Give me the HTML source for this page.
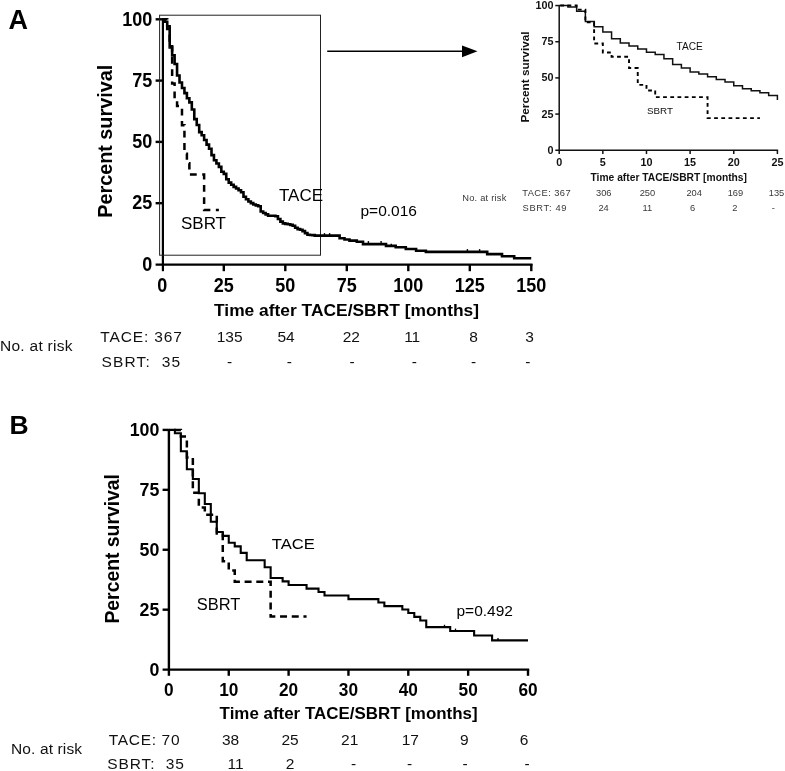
<!DOCTYPE html>
<html><head><meta charset="utf-8"><style>
html,body{margin:0;padding:0;background:#fff;}
svg{display:block;}
text{font-family:"Liberation Sans",Arial,sans-serif;}
.b{font-weight:bold;}
</style></head><body>
<svg width="785" height="771" viewBox="0 0 785 771">
<rect width="785" height="771" fill="#fff"/>
<g stroke="#000" stroke-width="2.4" fill="none" stroke-linecap="butt">
<line x1="162.9" y1="18.1" x2="162.9" y2="271.2" stroke-width="2.2"/>
<line x1="155.6" y1="264.6" x2="532.5" y2="264.6"/>
<line x1="155.6" y1="19.3" x2="162.3" y2="19.3"/>
<line x1="155.6" y1="80.6" x2="162.3" y2="80.6"/>
<line x1="155.6" y1="141.9" x2="162.3" y2="141.9"/>
<line x1="155.6" y1="203.2" x2="162.3" y2="203.2"/>
<line x1="223.8" y1="264" x2="223.8" y2="271.2"/>
<line x1="285.3" y1="264" x2="285.3" y2="271.2"/>
<line x1="346.8" y1="264" x2="346.8" y2="271.2"/>
<line x1="408.3" y1="264" x2="408.3" y2="271.2"/>
<line x1="469.8" y1="264" x2="469.8" y2="271.2"/>
<line x1="531.3" y1="264" x2="531.3" y2="271.2"/>
</g>
<rect x="159.6" y="15.2" width="160.9" height="240" fill="none" stroke="#222" stroke-width="1"/>
<line x1="327.2" y1="51.2" x2="463" y2="51.2" stroke="#000" stroke-width="1.6"/>
<polygon points="462,45.5 477.5,51.2 462,57.2" fill="#000"/>
<path d="M162.3,19.3 L164.76,19.3 L164.76,21.75 L167.22,21.75 L167.22,28.86 L169.68,28.86 L169.68,46.27 L172.14,46.27 L172.14,55.34 L174.6,55.34 L174.6,63.93 L177.06,63.93 L177.06,75.45 L179.52,75.45 L179.52,82.56 L181.98,82.56 L181.98,87.96 L184.44,87.96 L184.44,93.11 L186.9,93.11 L186.9,98.25 L189.36,98.25 L189.36,102.42 L191.82,102.42 L191.82,109.53 L194.28,109.53 L194.28,119.1 L196.74,119.1 L196.74,124.98 L199.2,124.98 L199.2,132.09 L201.66,132.09 L201.66,135.28 L204.12,135.28 L204.12,139.94 L206.58,139.94 L206.58,144.6 L209.04,144.6 L209.04,148.77 L211.5,148.77 L211.5,155.14 L213.96,155.14 L213.96,160.29 L216.42,160.29 L216.42,163.48 L218.88,163.48 L218.88,166.91 L221.34,166.91 L221.34,171.81 L223.8,171.81 L223.8,173.84 L226.26,173.84 L226.26,179.23 L228.72,179.23 L228.72,182.65 L231.18,182.65 L231.18,184.79 L233.64,184.79 L233.64,186.85 L236.1,186.85 L236.1,188.51 L238.56,188.51 L238.56,190.28 L241.02,190.28 L241.02,192.22 L243.48,192.22 L243.48,196.72 L245.94,196.72 L245.94,199.31 L248.4,199.31 L248.4,201.47 L250.86,201.47 L250.86,203.17 L253.32,203.17 L253.32,204.46 L255.78,204.46 L255.78,205.38 L258.24,205.38 L258.24,206.29 L260.7,206.29 L260.7,211.46 L263.16,211.46 L263.16,212.95 L265.62,212.95 L265.62,214.36 L268.08,214.36 L268.08,215.75 L270.54,215.75 L270.54,215.76 L273,215.76 L273,215.73 L275.46,215.73 L275.46,216.29 L277.92,216.29 L277.92,219.02 L280.38,219.02 L280.38,221.61 L282.84,221.61 L282.84,223.33 L285.3,223.33 L285.3,223.89 L287.76,223.89 L287.76,224.26 L290.22,224.26 L290.22,224.83 L292.68,224.83 L292.68,225.77 L295.14,225.77 L295.14,227.68 L297.6,227.68 L297.6,229.09 L300.06,229.09 L300.06,229.8 L302.52,229.8 L302.52,231.12 L304.98,231.12 L304.98,233.16 L307.44,233.16 L307.44,234.82 L309.9,234.82 L309.9,234.93 L312.36,234.93 L312.36,235.15 L314.82,235.15 L314.82,235.6 L317.28,235.6 L317.28,235.6 L339.6,235.6 L339.6,238.3 L344.5,238.3 L344.5,239.5 L349.5,239.5 L349.5,240.6 L356.8,240.6 L356.8,241.8 L363,241.8 L363,244.1 L386,244.1 L386,245.9 L395.7,245.9 L395.7,247.3 L405.8,247.3 L405.8,249 L416.1,249 L416.1,250.7 L425.9,250.7 L425.9,251.9 L487.2,251.9 L487.2,254.1 L502,254.1 L502,256.2 L514.2,256.2 L514.2,258.2 L531.2,258.2" fill="none" stroke="#000" stroke-width="2.6" stroke-linejoin="miter"/>
<path d="M162.3,19.3 L167.22,19.3 L167.22,26.17 L169.68,26.17 L169.68,47.5 L172.14,47.5 L172.14,83.54 L174.6,83.54 L174.6,98.74 L177.06,98.74 L177.06,106.1 L181.98,106.1 L181.98,125.23 L184.44,125.23 L184.44,153.67 L186.9,153.67 L186.9,163.23 L189.36,163.23 L189.36,174.51 L204.12,174.51 L204.12,210.07 L218.88,210.07" fill="none" stroke="#000" stroke-width="2.5" stroke-dasharray="6.8 5.5" stroke-dashoffset="1.68"/>
<line x1="324.5" y1="235.7" x2="324.5" y2="233.1" stroke="#000" stroke-width="1.4"/>
<line x1="329.6" y1="235.7" x2="329.6" y2="233.1" stroke="#000" stroke-width="1.4"/>
<line x1="368.4" y1="243.7" x2="368.4" y2="241.1" stroke="#000" stroke-width="1.4"/>
<line x1="381.1" y1="243.7" x2="381.1" y2="241.1" stroke="#000" stroke-width="1.4"/>
<line x1="391.3" y1="246.3" x2="391.3" y2="243.70000000000002" stroke="#000" stroke-width="1.4"/>
<line x1="467.4" y1="251.7" x2="467.4" y2="249.1" stroke="#000" stroke-width="1.4"/>
<line x1="479.6" y1="251.7" x2="479.6" y2="249.1" stroke="#000" stroke-width="1.4"/>
<text x="8.5" y="29" class="b" font-size="27">A</text>
<text x="152.3" y="25.5" class="b" font-size="19.3" text-anchor="end" textLength="30.02" lengthAdjust="spacingAndGlyphs">100</text>
<text x="152.3" y="86.8" class="b" font-size="19.3" text-anchor="end" textLength="20.02" lengthAdjust="spacingAndGlyphs">75</text>
<text x="152.3" y="148.1" class="b" font-size="19.3" text-anchor="end" textLength="20.02" lengthAdjust="spacingAndGlyphs">50</text>
<text x="152.3" y="209.4" class="b" font-size="19.3" text-anchor="end" textLength="20.02" lengthAdjust="spacingAndGlyphs">25</text>
<text x="152.3" y="270.7" class="b" font-size="19.3" text-anchor="end" textLength="10.01" lengthAdjust="spacingAndGlyphs">0</text>
<text x="162.3" y="291.9" class="b" font-size="19.3" text-anchor="middle" textLength="10.01" lengthAdjust="spacingAndGlyphs">0</text>
<text x="223.8" y="291.9" class="b" font-size="19.3" text-anchor="middle" textLength="20.02" lengthAdjust="spacingAndGlyphs">25</text>
<text x="285.3" y="291.9" class="b" font-size="19.3" text-anchor="middle" textLength="20.02" lengthAdjust="spacingAndGlyphs">50</text>
<text x="346.8" y="291.9" class="b" font-size="19.3" text-anchor="middle" textLength="20.02" lengthAdjust="spacingAndGlyphs">75</text>
<text x="408.3" y="291.9" class="b" font-size="19.3" text-anchor="middle" textLength="30.02" lengthAdjust="spacingAndGlyphs">100</text>
<text x="469.8" y="291.9" class="b" font-size="19.3" text-anchor="middle" textLength="30.02" lengthAdjust="spacingAndGlyphs">125</text>
<text x="531.3" y="291.9" class="b" font-size="19.3" text-anchor="middle" textLength="30.02" lengthAdjust="spacingAndGlyphs">150</text>
<text transform="translate(111.6,141.3) rotate(-90)" class="b" font-size="20" text-anchor="middle" textLength="153" lengthAdjust="spacingAndGlyphs">Percent survival</text>
<text x="214" y="316" class="b" font-size="17" textLength="265" lengthAdjust="spacingAndGlyphs">Time after TACE/SBRT [months]</text>
<text x="279" y="201.2" font-size="16" textLength="44" lengthAdjust="spacingAndGlyphs">TACE</text>
<text x="181" y="229" font-size="17" textLength="45" lengthAdjust="spacingAndGlyphs">SBRT</text>
<text x="360.5" y="216.4" font-size="15.5">p=0.016</text>
<g font-size="15.5" fill="#111">
<text x="0" y="350.9" textLength="72.5" lengthAdjust="spacing">No. at risk</text>
<text x="100.3" y="342.1" textLength="81.5" lengthAdjust="spacing">TACE: 367</text>
<text x="101.6" y="367.3" textLength="78.5" lengthAdjust="spacing" xml:space="preserve">SBRT:  35</text>
<text x="229.7" y="342.1" text-anchor="middle">135</text>
<text x="286" y="342.1" text-anchor="middle">54</text>
<text x="351.3" y="342.1" text-anchor="middle">22</text>
<text x="412.2" y="342.1" text-anchor="middle">11</text>
<text x="473.6" y="342.1" text-anchor="middle">8</text>
<text x="529.5" y="342.1" text-anchor="middle">3</text>
<text x="229.5" y="367.3" text-anchor="middle">-</text>
<text x="289.4" y="367.3" text-anchor="middle">-</text>
<text x="352" y="367.3" text-anchor="middle">-</text>
<text x="414.3" y="367.3" text-anchor="middle">-</text>
<text x="473.6" y="367.3" text-anchor="middle">-</text>
<text x="527.9" y="367.3" text-anchor="middle">-</text>
</g>
<g stroke="#111" stroke-width="1.5" fill="none">
<line x1="559.2" y1="5.05" x2="559.2" y2="154.05"/>
<line x1="555.3" y1="150.25" x2="778.1" y2="150.25"/>
<line x1="555.3" y1="5.55" x2="559.2" y2="5.55"/>
<line x1="555.3" y1="41.72" x2="559.2" y2="41.72"/>
<line x1="555.3" y1="77.9" x2="559.2" y2="77.9"/>
<line x1="555.3" y1="114.07" x2="559.2" y2="114.07"/>
<line x1="602.84" y1="150.25" x2="602.84" y2="154.05"/>
<line x1="646.48" y1="150.25" x2="646.48" y2="154.05"/>
<line x1="690.12" y1="150.25" x2="690.12" y2="154.05"/>
<line x1="733.76" y1="150.25" x2="733.76" y2="154.05"/>
<line x1="777.4" y1="150.25" x2="777.4" y2="154.05"/>
</g>
<path d="M559.2,5.55 L567.93,5.55 L567.93,7 L576.66,7 L576.66,11.19 L585.38,11.19 L585.38,21.47 L594.11,21.47 L594.11,26.82 L602.84,26.82 L602.84,31.89 L611.57,31.89 L611.57,38.69 L620.3,38.69 L620.3,42.88 L629.02,42.88 L629.02,46.07 L637.75,46.07 L637.75,49.1 L646.48,49.1 L646.48,52.14 L655.21,52.14 L655.21,54.6 L663.94,54.6 L663.94,58.8 L672.66,58.8 L672.66,64.44 L681.39,64.44 L681.39,67.92 L690.12,67.92 L690.12,72.11 L698.85,72.11 L698.85,73.99 L707.58,73.99 L707.58,76.74 L716.3,76.74 L716.3,79.49 L725.03,79.49 L725.03,81.95 L733.76,81.95 L733.76,85.71 L742.49,85.71 L742.49,88.75 L751.22,88.75 L751.22,90.63 L759.94,90.63 L759.94,92.66 L768.67,92.66 L768.67,95.55 L777.4,95.55 L777.4,99.89" fill="none" stroke="#111" stroke-width="1.5"/>
<path d="M559.2,5.55 L576.66,5.55 L576.66,9.6 L585.38,9.6 L585.38,22.19 L594.11,22.19 L594.11,43.46 L602.84,43.46 L602.84,52.43 L611.57,52.43 L611.57,56.77 L629.02,56.77 L629.02,68.06 L637.75,68.06 L637.75,84.85 L646.48,84.85 L646.48,90.49 L655.21,90.49 L655.21,97.15 L707.58,97.15 L707.58,118.13 L759.94,118.13" fill="none" stroke="#000" stroke-width="1.9" stroke-dasharray="3.8 3.4" stroke-dashoffset="6.12"/>
<g fill="#111">
<text x="553.6" y="9.05" class="b" font-size="10.8" text-anchor="end">100</text>
<text x="553.6" y="45.22" class="b" font-size="10.8" text-anchor="end">75</text>
<text x="553.6" y="81.4" class="b" font-size="10.8" text-anchor="end">50</text>
<text x="553.6" y="117.57" class="b" font-size="10.8" text-anchor="end">25</text>
<text x="553.6" y="153.75" class="b" font-size="10.8" text-anchor="end">0</text>
<text x="559.2" y="166.3" class="b" font-size="10.8" text-anchor="middle">0</text>
<text x="602.84" y="166.3" class="b" font-size="10.8" text-anchor="middle">5</text>
<text x="646.48" y="166.3" class="b" font-size="10.8" text-anchor="middle">10</text>
<text x="690.12" y="166.3" class="b" font-size="10.8" text-anchor="middle">15</text>
<text x="733.76" y="166.3" class="b" font-size="10.8" text-anchor="middle">20</text>
<text x="777.4" y="166.3" class="b" font-size="10.8" text-anchor="middle">25</text>
<text transform="translate(529.3,77) rotate(-90)" class="b" font-size="11.8" text-anchor="middle">Percent survival</text>
<text x="590.5" y="180.6" class="b" font-size="10" textLength="156.5" lengthAdjust="spacingAndGlyphs">Time after TACE/SBRT [months]</text>
<text x="676.5" y="50.4" font-size="10" textLength="26.3" lengthAdjust="spacingAndGlyphs">TACE</text>
<text x="647" y="114.1" font-size="9.5" textLength="26" lengthAdjust="spacingAndGlyphs">SBRT</text>
</g>
<g font-size="9.3" fill="#383838">
<text x="462.3" y="201.4" textLength="44" lengthAdjust="spacing">No. at risk</text>
<text x="522.3" y="196" textLength="48.3" lengthAdjust="spacing">TACE: 367</text>
<text x="522.5" y="210.8" textLength="44" lengthAdjust="spacing">SBRT: 49</text>
<text x="603.8" y="196" text-anchor="middle">306</text>
<text x="647.4" y="196" text-anchor="middle">250</text>
<text x="694.2" y="196" text-anchor="middle">204</text>
<text x="735.4" y="196" text-anchor="middle">169</text>
<text x="776.5" y="196" text-anchor="middle">135</text>
<text x="603.6" y="210.8" text-anchor="middle">24</text>
<text x="647.3" y="210.8" text-anchor="middle">11</text>
<text x="692.6" y="210.8" text-anchor="middle">6</text>
<text x="734.8" y="210.8" text-anchor="middle">2</text>
<text x="773.4" y="210.8" text-anchor="middle">-</text>
</g>
<g stroke="#000" stroke-width="2.4" fill="none">
<line x1="168.9" y1="429.3" x2="168.9" y2="675.8"/>
<line x1="162.6" y1="669.6" x2="529.2" y2="669.6"/>
<line x1="162.6" y1="429.9" x2="168.9" y2="429.9"/>
<line x1="162.6" y1="489.83" x2="168.9" y2="489.83"/>
<line x1="162.6" y1="549.75" x2="168.9" y2="549.75"/>
<line x1="162.6" y1="609.68" x2="168.9" y2="609.68"/>
<line x1="228.75" y1="669.6" x2="228.75" y2="675.8"/>
<line x1="288.6" y1="669.6" x2="288.6" y2="675.8"/>
<line x1="348.45" y1="669.6" x2="348.45" y2="675.8"/>
<line x1="408.3" y1="669.6" x2="408.3" y2="675.8"/>
<line x1="468.15" y1="669.6" x2="468.15" y2="675.8"/>
<line x1="528" y1="669.6" x2="528" y2="675.8"/>
</g>
<path d="M168.9,429.9 L174.89,429.9 L174.89,433.26 L180.87,433.26 L180.87,451.23 L186.86,451.23 L186.86,469.21 L192.84,469.21 L192.84,479.04 L198.83,479.04 L198.83,493.18 L204.81,493.18 L204.81,503.97 L210.8,503.97 L210.8,521.71 L216.78,521.71 L216.78,532.01 L222.77,532.01 L222.77,535.85 L228.75,535.85 L228.75,542.8 L234.74,542.8 L234.74,546.39 L240.72,546.39 L240.72,552.87 L246.71,552.87 L246.71,560.3 L264.66,560.3 L264.66,567.25 L270.64,567.25 L270.64,578.03 L282.62,578.03 L282.62,581.39 L288.6,581.39 L288.6,584.99 L306.56,584.99 L306.56,588.58 L318.52,588.58 L318.52,591.94 L324.51,591.94 L324.51,595.53 L348.45,595.53 L348.45,599.13 L378.38,599.13 L378.38,602.48 L384.36,602.48 L384.36,606.08 L402.32,606.08 L402.32,609.44 L408.3,609.44 L408.3,613.03 L414.29,613.03 L414.29,616.87 L420.27,616.87 L420.27,620.46 L426.25,620.46 L426.25,627.17 L450.2,627.17 L450.2,631.01 L474.13,631.01 L474.13,635.56 L492.09,635.56 L492.09,640.36 L528,640.36" fill="none" stroke="#000" stroke-width="2.1"/>
<path d="M168.9,429.9 L180.87,429.9 L180.87,436.61 L186.86,436.61 L186.86,457.47 L192.84,457.47 L192.84,492.7 L198.83,492.7 L198.83,507.56 L204.81,507.56 L204.81,514.75 L216.78,514.75 L216.78,533.45 L222.77,533.45 L222.77,561.26 L228.75,561.26 L228.75,570.6 L234.74,570.6 L234.74,581.63 L270.64,581.63 L270.64,616.39 L306.56,616.39" fill="none" stroke="#000" stroke-width="2.5" stroke-dasharray="7 4.7" stroke-dashoffset="6.57"/>
<line x1="444.5" y1="627.17" x2="444.5" y2="624.77" stroke="#000" stroke-width="1.3"/>
<line x1="455.5" y1="631.01" x2="455.5" y2="628.61" stroke="#000" stroke-width="1.3"/>
<line x1="498" y1="640.36" x2="498" y2="637.96" stroke="#000" stroke-width="1.3"/>
<text x="9.5" y="433.6" class="b" font-size="26.5">B</text>
<text x="159.4" y="436" class="b" font-size="19" text-anchor="end" textLength="29.7" lengthAdjust="spacingAndGlyphs">100</text>
<text x="159.4" y="495.93" class="b" font-size="19" text-anchor="end" textLength="19.8" lengthAdjust="spacingAndGlyphs">75</text>
<text x="159.4" y="555.85" class="b" font-size="19" text-anchor="end" textLength="19.8" lengthAdjust="spacingAndGlyphs">50</text>
<text x="159.4" y="615.78" class="b" font-size="19" text-anchor="end" textLength="19.8" lengthAdjust="spacingAndGlyphs">25</text>
<text x="159.4" y="675.7" class="b" font-size="19" text-anchor="end" textLength="9.9" lengthAdjust="spacingAndGlyphs">0</text>
<text x="168.9" y="696.1" class="b" font-size="18.5" text-anchor="middle" textLength="9.6" lengthAdjust="spacingAndGlyphs">0</text>
<text x="228.75" y="696.1" class="b" font-size="18.5" text-anchor="middle" textLength="19.2" lengthAdjust="spacingAndGlyphs">10</text>
<text x="288.6" y="696.1" class="b" font-size="18.5" text-anchor="middle" textLength="19.2" lengthAdjust="spacingAndGlyphs">20</text>
<text x="348.45" y="696.1" class="b" font-size="18.5" text-anchor="middle" textLength="19.2" lengthAdjust="spacingAndGlyphs">30</text>
<text x="408.3" y="696.1" class="b" font-size="18.5" text-anchor="middle" textLength="19.2" lengthAdjust="spacingAndGlyphs">40</text>
<text x="468.15" y="696.1" class="b" font-size="18.5" text-anchor="middle" textLength="19.2" lengthAdjust="spacingAndGlyphs">50</text>
<text x="528" y="696.1" class="b" font-size="18.5" text-anchor="middle" textLength="19.2" lengthAdjust="spacingAndGlyphs">60</text>
<text transform="translate(119.4,548.8) rotate(-90)" class="b" font-size="20" text-anchor="middle" textLength="149.5" lengthAdjust="spacingAndGlyphs">Percent survival</text>
<text x="219.6" y="718.7" class="b" font-size="16.5" textLength="258" lengthAdjust="spacingAndGlyphs">Time after TACE/SBRT [months]</text>
<text x="271.8" y="549" font-size="15.5" textLength="43" lengthAdjust="spacingAndGlyphs">TACE</text>
<text x="196.8" y="610.3" font-size="16" textLength="43.6" lengthAdjust="spacingAndGlyphs">SBRT</text>
<text x="456.5" y="615.6" font-size="15.5">p=0.492</text>
<g font-size="15.5" fill="#111">
<text x="11" y="753.9" textLength="71" lengthAdjust="spacing">No. at risk</text>
<text x="108.8" y="745.1" textLength="70.7" lengthAdjust="spacing">TACE: 70</text>
<text x="107.3" y="769.4" textLength="76.5" lengthAdjust="spacing" xml:space="preserve">SBRT:  35</text>
<text x="230.5" y="745.1" text-anchor="middle">38</text>
<text x="290" y="745.1" text-anchor="middle">25</text>
<text x="349.7" y="745.1" text-anchor="middle">21</text>
<text x="410.3" y="745.1" text-anchor="middle">17</text>
<text x="464.4" y="745.1" text-anchor="middle">9</text>
<text x="524" y="745.1" text-anchor="middle">6</text>
<text x="235.5" y="769.4" text-anchor="middle">11</text>
<text x="290" y="769.4" text-anchor="middle">2</text>
<text x="353.6" y="769.4" text-anchor="middle">-</text>
<text x="409.6" y="769.4" text-anchor="middle">-</text>
<text x="465" y="769.4" text-anchor="middle">-</text>
<text x="527" y="769.4" text-anchor="middle">-</text>
</g>
</svg></body></html>
